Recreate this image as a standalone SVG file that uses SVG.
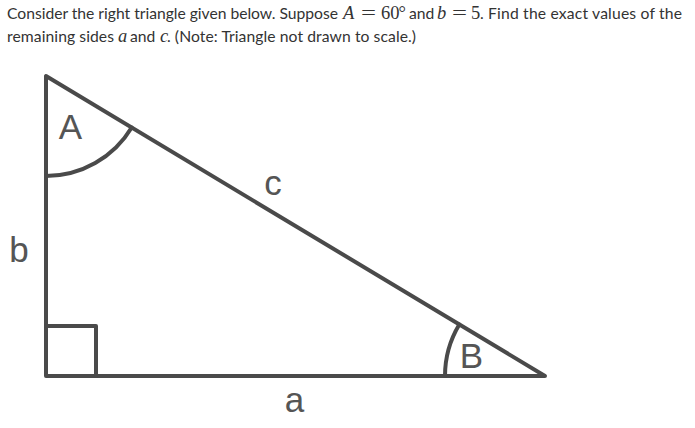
<svg xmlns="http://www.w3.org/2000/svg" width="695" height="428" viewBox="0 0 695 428">
<style>
.t{font-family:Lato,"Liberation Sans",sans-serif;font-size:15.7px;fill:#333}
.m{font-family:"Liberation Serif","DejaVu Serif",serif;font-size:18.5px;fill:#333}
.mi{font-style:italic}
.ln{fill:none;stroke:#4a4a4a;stroke-width:4;stroke-linecap:round;stroke-linejoin:round}
.lb{font-family:"Liberation Sans",Arial,sans-serif;font-size:35px;fill:#555}
</style>
<rect width="695" height="428" fill="#fff"/>
<g id="question">
<text class="t" x="7" y="19" textLength="331" lengthAdjust="spacing">Consider the right triangle given below. Suppose</text>
<text class="m mi" x="343" y="19">A</text>
<text class="m" x="361" y="19" textLength="15" lengthAdjust="spacingAndGlyphs">=</text>
<text class="m" x="381" y="19">60</text>
<text class="m" x="398.5" y="19">°</text>
<text class="t" x="409" y="19">and</text>
<text class="m mi" x="437" y="19">b</text>
<text class="m" x="452" y="19" textLength="15" lengthAdjust="spacingAndGlyphs">=</text>
<text class="m" x="471" y="19">5</text>
<text class="t" x="480" y="19" textLength="202" lengthAdjust="spacing">. Find the exact values of the</text>
<text class="t" x="7" y="42" textLength="107" lengthAdjust="spacing">remaining sides</text>
<text class="m mi" x="118" y="42">a</text>
<text class="t" x="130" y="42">and</text>
<text class="m mi" x="160" y="42">c</text>
<text class="t" x="167" y="42" textLength="249" lengthAdjust="spacing">. (Note: Triangle not drawn to scale.)</text>
</g>
<g id="connectors">
<path class="ln" d="M46,76 L46,376 L545,376 Z"/>
<path class="ln" d="M46,326 L96,326 L96,376"/>
<path class="ln" d="M46,176 A100,100 0 0 0 131.7,127.5"/>
<path class="ln" d="M445,376 A100,100 0 0 1 459.3,324.5"/>
</g>
<g id="label-A"><text class="lb" x="70.5" y="139" text-anchor="middle">A</text></g>
<g id="label-B"><text class="lb" x="471.5" y="368" text-anchor="middle">B</text></g>
<g id="label-c"><text class="lb" x="273" y="195" text-anchor="middle">c</text></g>
<g id="label-b"><text class="lb" x="19" y="262" text-anchor="middle">b</text></g>
<g id="label-a"><text class="lb" x="294.5" y="412" text-anchor="middle">a</text></g>
</svg>
